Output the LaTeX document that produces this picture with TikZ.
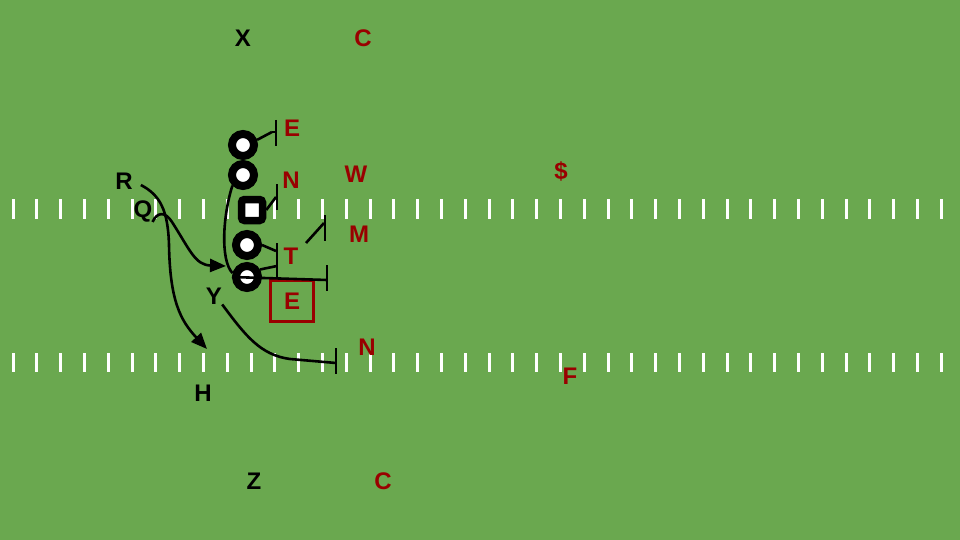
\documentclass[tikz,border=0pt]{standalone}
\usepackage{fontspec}
\setmainfont{Liberation Sans}
\newfontfamily\playfont{Liberation Sans}[UprightFont=*-Bold]
\usetikzlibrary{arrows.meta}
\definecolor{turf}{HTML}{6AA84F}
\definecolor{defred}{HTML}{990000}
\begin{document}
\begin{tikzpicture}[x=1pt,y=-1pt,
        lbl/.style={font=\playfont\fontsize{24}{24}\selectfont,inner sep=0pt},
        offtxt/.style={lbl,text=black},
        deftxt/.style={lbl,text=defred},
        ring/.style={circle,draw=black,fill=white,line width=8pt,
            minimum size=22pt,inner sep=0pt},
        snap/.style={rectangle,draw=black,fill=white,line width=7.5pt,
            minimum size=21pt,inner sep=0pt,rounded corners=3pt},
        hash/.style={white,line width=3pt},
        route/.style={black,line width=2.6pt},
        tip/.style={-{Triangle[length=16pt,width=13pt]}}]
	\fill[turf] (0,0) rectangle (960,540);
	\foreach \k in {0,...,39} {
		\draw[hash] ({13+23.8*\k},199) -- ++(0,20);
		\draw[hash] ({13+23.8*\k},353) -- ++(0,19);
	}
	\node[offtxt] (xrec) at (243,38) {X};
	\node[offtxt] (rb) at (124,181) {R};
	\node[offtxt] (qb) at (143,211) {Q};
	\node[offtxt] (yrec) at (214,296) {Y};
	\node[offtxt] (hb) at (203,393) {H};
	\node[offtxt] (zrec) at (254,481) {Z};
	\node[deftxt] (cbone) at (363,38) {C};
	\node[deftxt] (dend) at (292,128) {E};
	\node[deftxt] (nose) at (291,180) {N};
	\node[deftxt] (wlb) at (356,174) {W};
	\node[deftxt] (safe) at (561,171) {\$};
	\node[deftxt] (mlb) at (359,234) {M};
	\node[deftxt] (tack) at (291,256) {T};
	\node[deftxt] (nick) at (367,347) {N};
	\node[deftxt] (fs) at (570,376) {F};
	\node[deftxt] (cbtwo) at (383,481) {C};
	\node[deftxt,draw=defred,line width=2.5pt,minimum width=43pt,
		minimum height=41pt] (edge) at (292,301) {E};
	\coordinate (leend) at (272,132);
	\coordinate (cend) at (276,197);
	\coordinate (rtend) at (276,251);
	\coordinate (rgend) at (277,266);
	\coordinate (rgfar) at (327,280);
	\coordinate (mfrom) at (306,243);
	\coordinate (mend) at (324,223);
	\coordinate (yend) at (336,363);
	\draw[route] (leend) -- (276,132);
	\draw[route] (276,120) -- (276,146);
	\draw[route] (277,184) -- (277,210);
	\draw[route] (277,243) -- (277,263);
	\draw[route] (277,258) -- (277,277);
	\draw[route] (327,265) -- (327,291);
	\draw[route] (325,215) -- (325,241);
	\draw[route] (336,348) -- (336,374);
	\draw[route] (mfrom) -- (mend);
	\node[ring] (le) at (243,145) {};
	\node[ring] (lg) at (243,175) {};
	\node[snap] (c) at (252,210) {};
	\node[ring] (rt) at (247,245) {};
	\node[ring] (rg) at (247,277) {};
	\draw[route] (le.20) -- (leend);
	\draw[route] (c.east) -- (cend);
	\draw[route] (rt.east) -- (rtend);
	\draw[route] (rg.30) -- (rgend);
	\draw[route] (rg.west) -- (rgfar);
	\draw[route] (lg.south west) .. controls (223,215) and (220,260) .. (rg.165);
	\draw[route] (yrec.south east) .. controls (245,335) and (260,355) .. (290,359) -- (yend);
	\draw[route,tip] (qb.south east) .. controls (157,212) and (165,211) .. (172,222)
		.. controls (190,250) and (195,265) .. (226,266);
	\draw[route,tip] ([xshift=8pt,yshift=-4pt]rb.east) .. controls (160,195) and (168,210) .. (169,245)
		.. controls (170,300) and (180,320) .. (207,349);
\end{tikzpicture}
\end{document}
